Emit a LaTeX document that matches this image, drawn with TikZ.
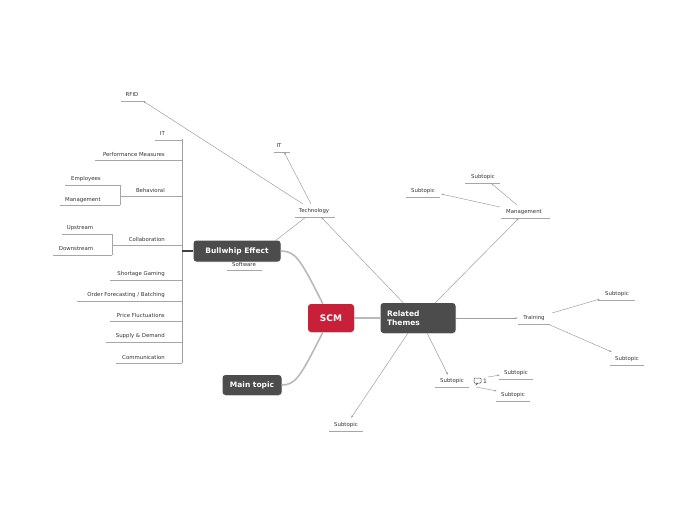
\documentclass[tikz,border=0pt]{standalone}
\usepackage{fontspec}
\setmainfont{DejaVu Sans}
\usetikzlibrary{arrows.meta,shadows}
\definecolor{scmred}{RGB}{200,32,56}
\begin{document}
\begin{tikzpicture}[x=1pt,y=-1pt,
 lbl/.style={font=\fontsize{5.4}{6.4}\selectfont,text=black!80,inner sep=0pt},
 ul/.style={draw=gray!70,line width=0.6pt},
 ln/.style={draw=gray!75,line width=0.5pt},
 arr/.style={ln,-{Latex[length=2.5pt,width=2pt]}},
 main/.style={rounded corners=3pt,fill=black!70,text=white,font=\fontsize{7.5}{8.5}\selectfont\bfseries,drop shadow={opacity=0.25,shadow xshift=0.5pt,shadow yshift=-0.8pt}},
 thick branch/.style={draw=gray!55,line width=1.6pt}]
\useasboundingbox (0,0) rectangle (697,520);
% central
\node[main,fill=scmred,minimum width=46pt,minimum height=28pt,font=\fontsize{9}{10}\selectfont\bfseries] (scm) at (331,318) {SCM};
\node[main,minimum width=75pt,minimum height=30pt,align=left,text width=62pt] (rt) at (418,318) {Related\\Themes};
\node[main,minimum width=87pt,minimum height=21pt] (bw) at (237,251) {Bullwhip Effect};
\node[main,minimum width=59pt,minimum height=20pt] (mt) at (252,385) {Main topic};
\draw[thick branch] ([xshift=15pt]scm.north west) .. controls (300,258) and (295,251) .. (bw.east);
\draw[thick branch] ([xshift=15pt]scm.south west) .. controls (300,378) and (295,385) .. (mt.east);
\draw[thick branch] (scm.east) -- (rt.west);
% left tree
\coordinate (tt) at (182,139);
\coordinate (tb) at (182,363);
\draw[ln,line width=0.7pt] (tt) -- (tb);
\draw[black!75,line width=1.2pt] (bw.west) -- (182,251);
\foreach \t/\y/\x in {IT/134/155,{Performance Measures}/154/95,Behavioral/190/120,Collaboration/239/112,{Shortage Gaming}/274/110,{Order Forecasting / Batching}/295/77,{Price Fluctuations}/315/110,{Supply \& Demand}/336/106,Communication/357/116}{
  \node[lbl,anchor=east] at (165,\y) {\t};
  \draw[ul] (\x,\y+6) -- (182,\y+6);
}
\draw[ul] (120,185) -- (120,205);
\node[lbl] (emp) at (86,179) {Employees};
\draw[ul] (65,185) -- (120,185);
\node[lbl] (mgm) at (83,200) {Management};
\draw[ul] (60,205) -- (120,205);
\draw[ul] (112,234) -- (112,255);
\node[lbl] (up) at (80,228) {Upstream};
\draw[ul] (62,234) -- (112,234);
\node[lbl] (dn) at (76,249) {Downstream};
\draw[ul] (53,255) -- (112,255);
% technology
\node[lbl] (tech) at (314,211) {Technology};
\draw[ul] (295,217) -- (335,217);
\node[lbl] (it) at (279,146) {IT};
\draw[ul] (274,152) -- (290,152);
\node[lbl] (rfid) at (132,95) {RFID};
\draw[ul] (121,101) -- (145,101);
\node[lbl] (sw) at (244,264) {Software};
\draw[ul] (227,270) -- (262,270);
\draw[arr] (311,204) -- (284,152);
\draw[arr] (303,204) -- (143,101);
\draw[ln] (275,241) -- (306,217);
\draw[arr] ([xshift=23pt]rt.north west) -- (321,217);
% management
\node[lbl] (man) at (524,212) {Management};
\draw[ul] (501,218) -- (550,218);
\node[lbl] (s1) at (483,177) {Subtopic};
\draw[ul] (465,183) -- (500,183);
\node[lbl] (s2) at (423,191) {Subtopic};
\draw[ul] (406,197) -- (440,197);
\draw[arr] (517,205) -- (491,183);
\draw[arr] (500,207) -- (441,194);
\draw[arr] (435,303) -- (519,218);
% training
\node[lbl] (tr) at (534,318) {Training};
\draw[ul] (518,324) -- (550,324);
\draw[arr] (rt.east) -- (518,318);
\node[lbl] (s3) at (617,294) {Subtopic};
\draw[ul] (598,300) -- (635,300);
\node[lbl] (s4) at (627,359) {Subtopic};
\draw[ul] (610,365) -- (644,365);
\draw[arr] (552,313) -- (600,299);
\draw[arr] (550,325) -- (612,352);
% bottom subtopics
\node[lbl] (s5) at (452,381) {Subtopic};
\draw[ul] (435,387) -- (469,387);
\draw[arr] (427,333) -- (448,375);
\draw[black!70,line width=0.5pt,rounded corners=0.8pt] (474,378) rectangle (481,383);
\draw[black!70,line width=0.5pt] (476,383) -- (476,385) -- (478,383);
\node[lbl,font=\fontsize{6}{7}\selectfont] (cnt) at (485,381) {1};
\node[lbl] (s6) at (516,373) {Subtopic};
\draw[ul] (499,379) -- (533,379);
\node[lbl] (s7) at (513,395) {Subtopic};
\draw[ul] (496,401) -- (530,401);
\draw[arr] (488,377) -- (500,375);
\draw[arr] (476,387) -- (497,391);
\node[lbl] (s8) at (346,425) {Subtopic};
\draw[ul] (329,431) -- (363,431);
\draw[arr] (408,333) -- (351,418);
\end{tikzpicture}
\end{document}
